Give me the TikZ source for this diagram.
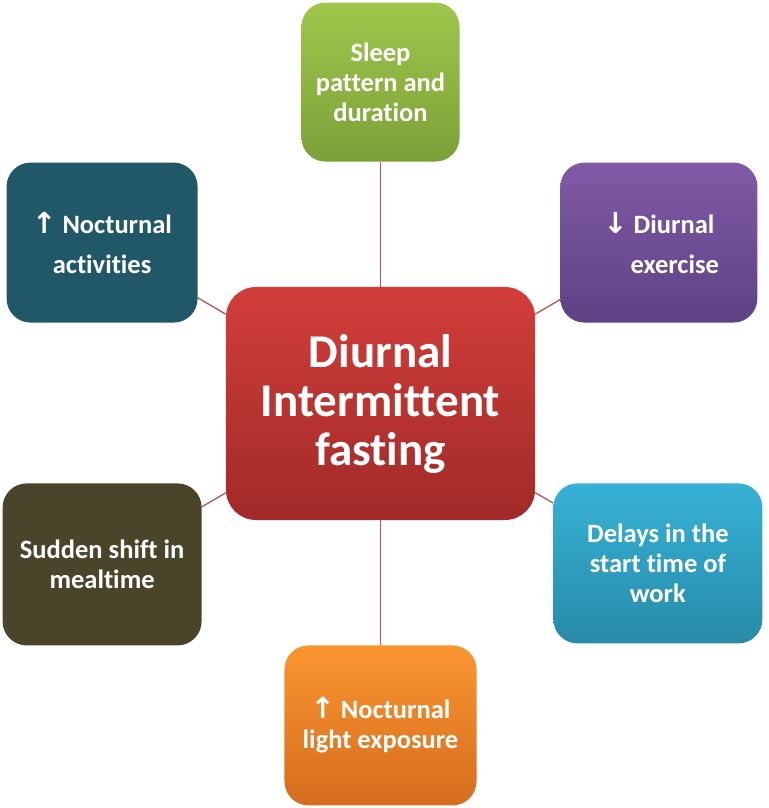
\documentclass[tikz,border=0pt]{standalone}
\usepackage{fontspec}
\setmainfont{Carlito}[Ligatures=NoCommon]
\newfontfamily\arrowfont{DejaVu Sans}
\usetikzlibrary{positioning}
\definecolor{linkred}{HTML}{C0504D}
\newcommand{\up}{{\arrowfont\bfseries\fontsize{29}{30}\selectfont ↑}}
\newcommand{\down}{{\arrowfont\bfseries\fontsize{29}{30}\selectfont ↓}}

\begin{document}
\begin{tikzpicture}[
    every node/.style={align=center, text=white, font=\bfseries\fontsize{26.5}{30}\selectfont},
    factor/.style={rounded corners=24pt, inner sep=0pt},
    link/.style={draw=linkred, line width=1.3pt}]
  \path[use as bounding box] (-380.5pt,-404.5pt) rectangle (387.5pt,403.5pt);

  \node[factor, rounded corners=30pt, minimum width=309pt, minimum height=233pt,
        top color={rgb,255:red,210;green,62;blue,58}, bottom color={rgb,255:red,160;green,42;blue,40},
        font=\bfseries\fontsize{47}{49}\selectfont] (center) {Diurnal\\Intermittent\\fasting};

  \node[factor, above=125pt of center, minimum width=158pt, minimum height=159pt,
        top color={rgb,255:red,158;green,199;blue,76}, bottom color={rgb,255:red,124;green,160;blue,56}] (sleep) {Sleep\\pattern and\\duration};
  \node[factor, below=125pt of center, minimum width=192pt, minimum height=160pt,
        top color={rgb,255:red,249;green,150;blue,48}, bottom color={rgb,255:red,214;green,108;blue,30}] (light) {\up{} Nocturnal\\light exposure};
  \node[factor, above left=-36pt and 28pt of center, minimum width=191pt, minimum height=160pt,
        fill={rgb,255:red,33;green,88;blue,104},
        font=\bfseries\fontsize{26.5}{40}\selectfont] (nocturnal) {\up{} Nocturnal\\activities};
  \node[factor, above right=-36pt and 25pt of center, minimum width=197pt, minimum height=160pt,
        top color={rgb,255:red,128;green,90;blue,166}, bottom color={rgb,255:red,94;green,66;blue,132},
        font=\bfseries\fontsize{26.5}{40}\selectfont] (exercise) {\down{} Diurnal\\\hspace*{1.2em}exercise};
  \node[factor, below left=-37pt and 24pt of center, minimum width=199pt, minimum height=162pt,
        fill={rgb,255:red,74;green,69;blue,42}] (mealtime) {Sudden shift in\\mealtime};
  \node[factor, below right=-37pt and 18pt of center, minimum width=209pt, minimum height=160pt,
        top color={rgb,255:red,54;green,178;blue,214}, bottom color={rgb,255:red,40;green,138;blue,168}] (work) {Delays in the\\start time of\\work};

  \draw[link] (center) -- (sleep);
  \draw[link] (center) -- (light);
  \draw[link] (center) -- (nocturnal);
  \draw[link] (center) -- (exercise);
  \draw[link] (center) -- (mealtime);
  \draw[link] (center) -- (work);
\end{tikzpicture}
\end{document}
